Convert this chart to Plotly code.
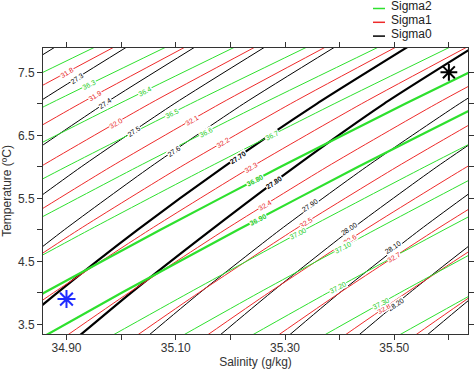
import plotly.graph_objects as go

# ---------------- data ----------------
# temperature levels at which each isopycnal's salinity was read
T_LEVELS = [3.3, 4.0, 5.0, 6.0, 7.0, 7.9]

# Sigma0 (black)
SIGMA0_LEVELS = [27.2, 27.3, 27.4, 27.5, 27.6, 27.7, 27.8, 27.9, 28.0, 28.1, 28.2, 28.3]
SIGMA0_S = [
    [34.141, 34.238, 34.385, 34.542, 34.713, 34.879],
    [34.272, 34.369, 34.516, 34.673, 34.844, 35.010],
    [34.397, 34.494, 34.641, 34.799, 34.969, 35.135],
    [34.525, 34.622, 34.769, 34.927, 35.097, 35.263],
    [34.652, 34.749, 34.896, 35.054, 35.224, 35.391],
    [34.786, 34.883, 35.030, 35.188, 35.358, 35.524],
    [34.921, 35.018, 35.165, 35.318, 35.481, 35.645],
    [35.047, 35.144, 35.291, 35.449, 35.619, 35.785],
    [35.177, 35.274, 35.420, 35.578, 35.749, 35.915],
    [35.304, 35.400, 35.547, 35.705, 35.876, 36.042],
    [35.431, 35.528, 35.675, 35.833, 36.003, 36.169],
    [35.556, 35.653, 35.800, 35.958, 36.128, 36.294],
]
SIGMA0_THICK = [27.7, 27.8]

# Sigma1 (red)
SIGMA1_LEVELS = [31.8, 31.9, 32.0, 32.1, 32.2, 32.3, 32.4, 32.5, 32.6, 32.7, 32.8, 32.9]
SIGMA1_S = [
    [34.115, 34.231, 34.407, 34.594, 34.794, 34.987],
    [34.244, 34.361, 34.536, 34.724, 34.924, 35.117],
    [34.372, 34.489, 34.665, 34.852, 35.052, 35.245],
    [34.502, 34.618, 34.794, 34.981, 35.181, 35.374],
    [34.630, 34.747, 34.922, 35.109, 35.310, 35.503],
    [34.760, 34.876, 35.052, 35.239, 35.440, 35.633],
    [34.897, 35.014, 35.190, 35.377, 35.577, 35.770],
    [35.025, 35.142, 35.317, 35.505, 35.705, 35.898],
    [35.153, 35.270, 35.446, 35.633, 35.833, 36.026],
    [35.283, 35.400, 35.576, 35.763, 35.963, 36.156],
    [35.405, 35.522, 35.698, 35.885, 36.085, 36.278],
    [35.534, 35.650, 35.826, 36.013, 36.213, 36.406],
]
SIGMA1_THICK = []

# Sigma2 (green)
SIGMA2_LEVELS = [36.2, 36.3, 36.4, 36.5, 36.6, 36.7, 36.8, 36.9, 37.0, 37.1, 37.2, 37.3, 37.4]
SIGMA2_S = [
    [33.934, 34.079, 34.291, 34.511, 34.739, 34.952],
    [34.064, 34.208, 34.421, 34.641, 34.869, 35.082],
    [34.191, 34.335, 34.548, 34.768, 34.996, 35.208],
    [34.322, 34.467, 34.679, 34.899, 35.127, 35.340],
    [34.454, 34.598, 34.811, 35.030, 35.258, 35.471],
    [34.585, 34.729, 34.942, 35.162, 35.390, 35.602],
    [34.715, 34.859, 35.072, 35.292, 35.520, 35.732],
    [34.857, 35.001, 35.214, 35.434, 35.662, 35.874],
    [34.979, 35.124, 35.336, 35.556, 35.784, 35.997],
    [35.108, 35.252, 35.465, 35.684, 35.912, 36.125],
    [35.234, 35.378, 35.591, 35.811, 36.039, 36.251],
    [35.366, 35.510, 35.723, 35.943, 36.171, 36.383],
    [35.503, 35.648, 35.860, 36.080, 36.308, 36.521],
]
SIGMA2_THICK = [36.8, 36.9]

# contour labels (text, salinity, temperature)
SIGMA0_LABELS = ["27.3", "27.4", "27.5", "27.6", "27.70", "27.80", "27.90", "28.00", "28.10", "28.20"]
SIGMA0_LABEL_S = [34.919, 34.970, 35.023, 35.096, 35.214, 35.280, 35.345, 35.418, 35.497, 35.503]
SIGMA0_LABEL_T = [7.405, 7.008, 6.563, 6.246, 6.151, 5.754, 5.389, 5.024, 4.722, 3.817]

SIGMA1_LABELS = ["31.8", "31.9", "32.0", "32.1", "32.2", "32.3", "32.4", "32.5", "32.6", "32.7", "32.8"]
SIGMA1_LABEL_S = [34.901, 34.953, 34.990, 35.129, 35.187, 35.238, 35.263, 35.339, 35.419, 35.499, 35.481]
SIGMA1_LABEL_T = [7.500, 7.135, 6.690, 6.738, 6.389, 5.992, 5.389, 5.119, 4.849, 4.563, 3.754]

SIGMA2_LABELS = ["36.3", "36.4", "36.5", "36.6", "36.7", "36.80", "36.90", "37.00", "37.10", "37.20", "37.30"]
SIGMA2_LABEL_S = [34.942, 35.043, 35.093, 35.155, 35.276, 35.245, 35.251, 35.324, 35.406, 35.397, 35.476]
SIGMA2_LABEL_T = [7.310, 7.198, 6.849, 6.548, 6.500, 5.786, 5.167, 4.944, 4.722, 4.087, 3.833]

# marked water samples
BLACK_STAR_S = [35.60]
BLACK_STAR_T = [7.50]
BLUE_STAR_S = [34.90]
BLUE_STAR_T = [3.90]

X_TICKS = [34.90, 35.00, 35.10, 35.20, 35.30, 35.40, 35.50, 35.60]
X_TICK_TEXT = ["34.90", "", "35.10", "", "35.30", "", "35.50", ""]
Y_TICKS = [3.5, 4.0, 4.5, 5.0, 5.5, 6.0, 6.5, 7.0, 7.5]
Y_TICK_TEXT = ["3.5", "", "4.5", "", "5.5", "", "6.5", "", "7.5"]

# ---------------- figure ----------------
BLACK = "#000000"
RED = "#ee2a2a"
GREEN = "#2ee02e"

fig = go.Figure()


def family_xy(levels, rows, thick, want_thick):
    xs, ys = [], []
    for lev, row in zip(levels, rows):
        if (lev in thick) != want_thick:
            continue
        xs += list(row) + [None]
        ys += list(T_LEVELS) + [None]
    return xs, ys


for name, levels, rows, thick, color in [
    ("Sigma0", SIGMA0_LEVELS, SIGMA0_S, SIGMA0_THICK, BLACK),
    ("Sigma1", SIGMA1_LEVELS, SIGMA1_S, SIGMA1_THICK, RED),
    ("Sigma2", SIGMA2_LEVELS, SIGMA2_S, SIGMA2_THICK, GREEN),
]:
    xs, ys = family_xy(levels, rows, thick, False)
    fig.add_trace(go.Scatter(x=xs, y=ys, mode="lines", name=name,
                             line=dict(color=color, width=1, shape="spline", smoothing=0.6),
                             showlegend=False, hoverinfo="skip"))
    if thick:
        xs, ys = family_xy(levels, rows, thick, True)
        fig.add_trace(go.Scatter(x=xs, y=ys, mode="lines", name=name + " (bold)",
                                 line=dict(color=color, width=2.2, shape="spline", smoothing=0.6),
                                 showlegend=False, hoverinfo="skip"))

fig.add_trace(go.Scatter(x=BLACK_STAR_S, y=BLACK_STAR_T, mode="markers", showlegend=False,
                         hoverinfo="skip",
                         marker=dict(symbol="asterisk-open", size=14, color=BLACK,
                                     line=dict(width=2, color=BLACK))))
fig.add_trace(go.Scatter(x=BLUE_STAR_S, y=BLUE_STAR_T, mode="markers", showlegend=False,
                         hoverinfo="skip",
                         marker=dict(symbol="asterisk-open", size=15, color="#1f2cff",
                                     line=dict(width=2, color="#1f2cff"))))

annotations = []
bold_labels = {"27.70", "27.80", "36.80", "36.90"}
for labels, ss, ts, color, ang in [
    (SIGMA0_LABELS, SIGMA0_LABEL_S, SIGMA0_LABEL_T, BLACK, -34),
    (SIGMA1_LABELS, SIGMA1_LABEL_S, SIGMA1_LABEL_T, "#e81e1e", -31),
    (SIGMA2_LABELS, SIGMA2_LABEL_S, SIGMA2_LABEL_T, "#22cc22", -27),
]:
    for txt, s, t in zip(labels, ss, ts):
        shown = "<b>%s</b>" % txt if txt in bold_labels else txt
        annotations.append(dict(x=s, y=t, xref="x", yref="y", text=shown, showarrow=False,
                                textangle=ang, bgcolor="white", borderpad=0,
                                font=dict(family="Liberation Sans, Arial, sans-serif",
                                          size=7, color=color)))

# legend (drawn as sample lines + real text)
PLOT_TOP, PLOT_BOTTOM, PLOT_LEFT, PLOT_W = 48.0, 334.0, 43.0, 425.0
PLOT_H = PLOT_BOTTOM - PLOT_TOP
legend_items = [("Sigma2", GREEN), ("Sigma1", RED), ("Sigma0", BLACK)]
shapes = []
for i, (txt, color) in enumerate(legend_items):
    ypix = 6 + i * 13.8
    yp = (PLOT_BOTTOM - ypix) / PLOT_H
    annotations.append(dict(x=(389 - PLOT_LEFT) / PLOT_W, y=yp, xref="paper", yref="paper",
                            text=txt, showarrow=False, xanchor="left", yanchor="middle",
                            font=dict(family="Liberation Sans, Arial, sans-serif",
                                      size=12, color="#222222")))
    yl = (PLOT_BOTTOM - (ypix + 2.5)) / PLOT_H
    shapes.append(dict(type="line", xref="paper", yref="paper",
                       x0=(373 - PLOT_LEFT) / PLOT_W, x1=(385 - PLOT_LEFT) / PLOT_W, y0=yl, y1=yl,
                       line=dict(color=color, width=1.5)))

axis_font = dict(family="Liberation Sans, Arial, sans-serif", size=12, color="#333333")
fig.update_layout(
    width=474, height=370,
    margin=dict(l=43, r=6, t=48, b=36, autoexpand=False),
    paper_bgcolor="white", plot_bgcolor="white",
    showlegend=False,
    hovermode=False,
    annotations=annotations,
    shapes=shapes,
    font=axis_font,
)
fig.update_xaxes(range=[34.857, 35.635], tickvals=X_TICKS, ticktext=X_TICK_TEXT,
                 ticks="outside", ticklen=5, tickcolor="#333333", showgrid=False, zeroline=False,
                 showline=True, linecolor="#333333", linewidth=1, mirror="ticks",
                 tickfont=axis_font, automargin=False, ticklabelstandoff=-2,
                 title=dict(text="Salinity (g/kg)", font=axis_font, standoff=0))
fig.update_yaxes(range=[3.346, 7.886], tickvals=Y_TICKS, ticktext=Y_TICK_TEXT,
                 ticks="outside", ticklen=5, tickcolor="#333333", showgrid=False, zeroline=False,
                 showline=True, linecolor="#333333", linewidth=1, mirror="ticks",
                 tickfont=axis_font, automargin=False,
                 title=dict(text="Temperature (ºC)", font=axis_font, standoff=4))

# the page's default 8px body margin would push the 474x370 figure out of the window
fig.write_html("out.html", config={"displayModeBar": False},
               post_script="document.body.style.margin='0px';")
